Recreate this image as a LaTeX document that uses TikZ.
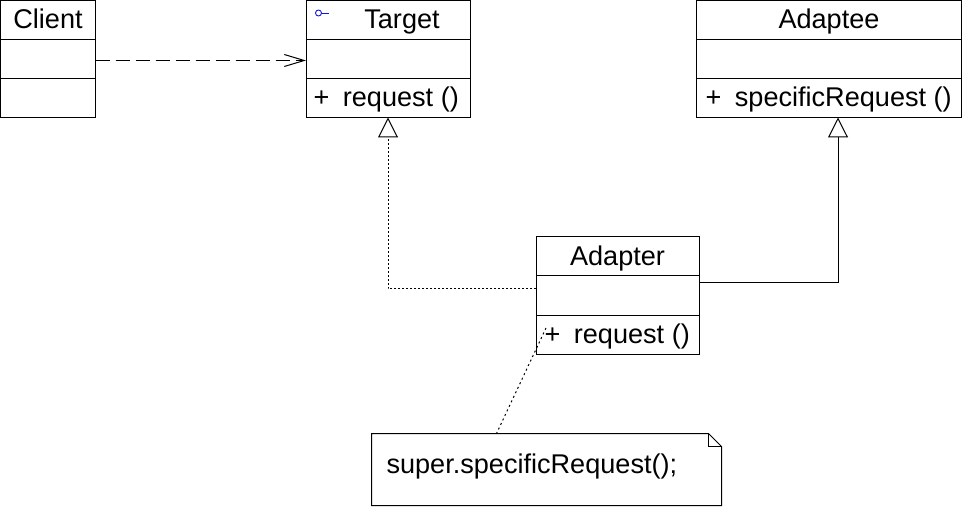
\documentclass[tikz,border=0pt]{standalone}
\usepackage{fontspec}
\setmainfont{Liberation Sans}
\usetikzlibrary{arrows.meta,calc}
\definecolor{iconblue}{RGB}{20,20,210}
\begin{document}
\begin{tikzpicture}[x=1pt,y=-1pt,line width=1pt,
  classbox/.style={draw,rectangle,inner sep=0pt,outer sep=0pt},
  lbl/.style={inner sep=0pt,anchor=base,font=\fontsize{27.1}{31}\selectfont},
  lblw/.style={lbl,anchor=base west},
  dep/.style={dash pattern=on 14pt off 6pt,-{Straight Barb[length=20pt,width=12pt,line width=1pt]}},
  realize/.style={dash pattern=on 2pt off 2pt,-{Triangle[open,fill=white,length=20pt,width=20pt,line width=1pt]}},
  inherit/.style={-{Triangle[open,fill=white,length=20pt,width=20pt,line width=1pt]}},
  notelink/.style={dash pattern=on 2pt off 3pt}]
\useasboundingbox (0,0) rectangle (968,510);

% class boxes
\node[classbox,minimum width=95pt,minimum height=117pt] (client) at (48,59) {};
\node[classbox,minimum width=164pt,minimum height=117pt] (target) at (388,59) {};
\node[classbox,minimum width=265pt,minimum height=117pt] (adaptee) at (828.5,59) {};
\node[classbox,minimum width=163pt,minimum height=117pt] (adapter) at (617.5,295.5) {};

% compartments
\foreach \c in {client,target,adaptee,adapter}{
  \draw ($(\c.north west)+(0,39)$) -- ($(\c.north east)+(0,39)$);
  \draw ($(\c.north west)+(0,78)$) -- ($(\c.north east)+(0,78)$);
}

% labels
\node[lbl] (clientname) at (48,29) {Client};
\node[lbl] (targetname) at (402,29) {Target};
\draw[iconblue,line width=0.9pt] (318.5,13) circle (3pt);
\draw[iconblue,line width=0.9pt] (321.5,13) -- (329,13);
\node[lblw] (targetop) at (313,107) {+\hspace{0.5em}request ()};
\node[lbl] (adapteename) at (829,29) {Adaptee};
\node[lblw] (adapteeop) at (705,107) {+\hspace{0.5em}specificRequest ()};
\node[lbl] (adaptername) at (617.5,266) {Adapter};
\node[lblw] (adapterop) at (544,343) {+\hspace{0.5em}request ()};

% note
\node[inner sep=0pt,minimum width=349pt,minimum height=71pt] (note) at (546.5,469.5) {};
\draw (note.north west) -- ($(note.north east)+(-13,0)$) -- ($(note.north east)+(0,13)$) -- (note.south east) -- (note.south west) -- cycle;
\draw ($(note.north east)+(-13,0)$) -- ($(note.north east)+(-13,13)$) -- ($(note.north east)+(0,13)$);
\node[lblw] (notetext) at (386,473) {super.specificRequest();};

% connectors
\draw[dep] ($(client.north east)+(0,60)$) -- ($(target.north west)+(0,60)$);
\draw[realize] ($(adapter.north west)+(0,52)$) -| (target.south);
\draw[inherit] ($(adapter.north east)+(0,46)$) -| ($(adaptee.south west)+(142,0)$);
\draw[notelink] ($(adapter.north west)+(10,91)$) -- ($(note.north west)+(125,0)$);
\end{tikzpicture}
\end{document}
